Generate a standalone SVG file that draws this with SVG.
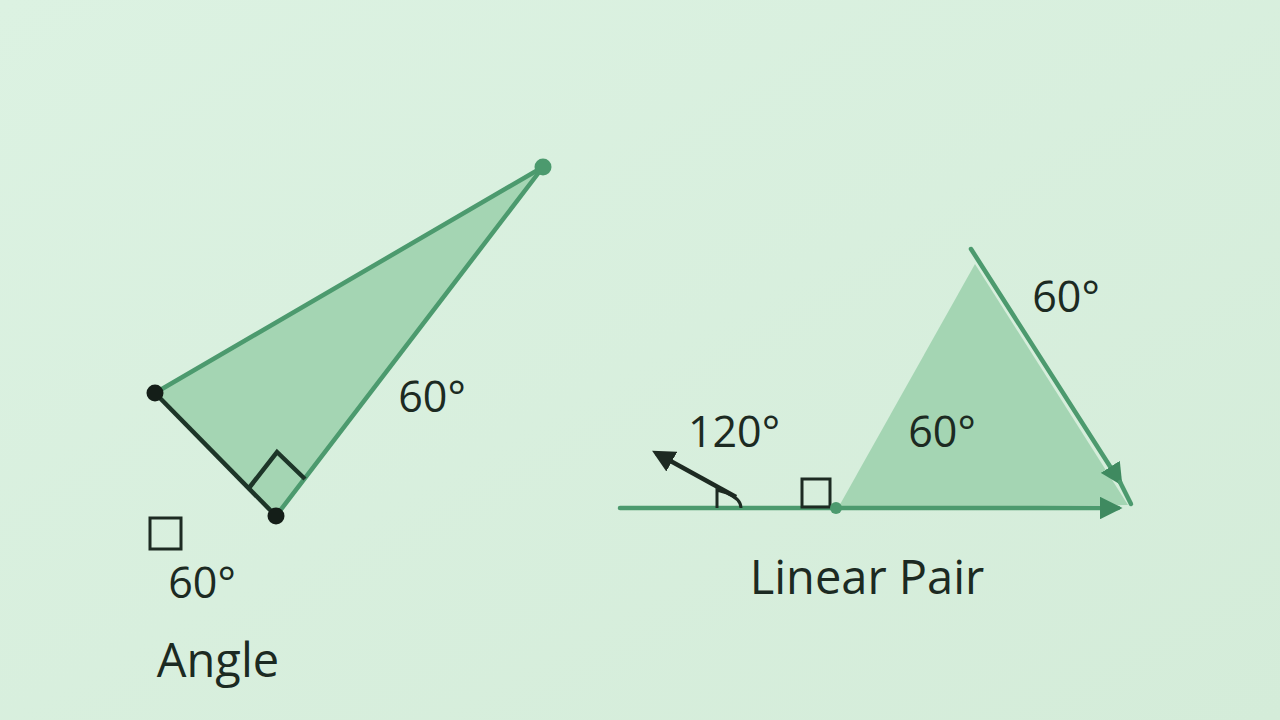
<svg xmlns="http://www.w3.org/2000/svg" width="1280" height="720" viewBox="0 0 1280 720">
<style>
text{font-family:"Open Sans","Noto Sans","Liberation Sans",sans-serif;fill:#1c2a22}
.lbl{font-size:43px}
.big{font-size:47px}
.g{stroke:#4c9a6e;stroke-width:4.5;fill:none;stroke-linecap:round}
.k{stroke:#1d3528;stroke-width:4.5;fill:none}
.fill{fill:#a4d5b3}
</style>
<defs>
<linearGradient id="bg" x1="0" y1="0" x2="1" y2="1">
<stop offset="0" stop-color="#dcf2e2"/><stop offset="1" stop-color="#d4ecd9"/>
</linearGradient>
<marker id="ga" viewBox="0 0 10 10" refX="8" refY="5" markerWidth="5" markerHeight="5" orient="auto"><path d="M0,0L10,5L0,10z" fill="#3f8a60"/></marker>
<marker id="ka" viewBox="0 0 10 10" refX="8" refY="5" markerWidth="5" markerHeight="5" orient="auto"><path d="M0,0L10,5L0,10z" fill="#1d2a22"/></marker>
</defs>
<rect width="1280" height="720" fill="url(#bg)"/>
<g id="left-triangle">
<polygon class="fill" points="155,393 543,167 276,516"/>
<line class="g" x1="155" y1="393" x2="543" y2="167"/>
<line class="g" x1="276" y1="516" x2="543" y2="167"/>
<line class="k" x1="155" y1="393" x2="276" y2="516"/>
<polyline class="k" points="249,488 277,452 305,479"/>
<circle cx="155" cy="393" r="8.5" fill="#141e18"/>
<circle cx="276" cy="516" r="8.5" fill="#141e18"/>
<circle cx="543" cy="167" r="8.5" fill="#4c9a6e"/>
<text class="lbl" x="432" y="412" text-anchor="middle">60°</text>
</g>
<g id="left-labels">
<rect x="150" y="518" width="31" height="31" fill="none" stroke="#1d2a22" stroke-width="3"/>
<text class="lbl" x="202" y="598" text-anchor="middle">60°</text>
<text class="big" x="218" y="677" text-anchor="middle">Angle</text>
</g>
<g id="right-triangle">
<polygon class="fill" points="838,508 975,264 1128,505"/>
<text class="lbl" x="942" y="447" text-anchor="middle">60°</text>
</g>
<g id="connectors">
<line class="g" x1="620" y1="508" x2="1118" y2="508" marker-end="url(#ga)"/>
<line class="g" x1="971" y1="249" x2="1120" y2="482" marker-end="url(#ga)"/>
<line class="g" x1="1120" y1="482" x2="1131" y2="504"/>
<line x1="736" y1="497" x2="656" y2="453" stroke="#1d2a22" stroke-width="4.5" marker-end="url(#ka)"/>
</g>
<g id="right-marks">
<path d="M717,508 V490 L727,493 Q741,499 741,508" fill="none" stroke="#1d2a22" stroke-width="3"/>
<rect x="802" y="479" width="28" height="28" fill="none" stroke="#1d2a22" stroke-width="3"/>
<circle cx="836" cy="508" r="6" fill="#4c9a6e"/>
<text class="lbl" x="734" y="447" text-anchor="middle">120°</text>
<text class="lbl" x="1066" y="312" text-anchor="middle">60°</text>
<text class="big" x="867" y="594" text-anchor="middle">Linear Pair</text>
</g>
</svg>
